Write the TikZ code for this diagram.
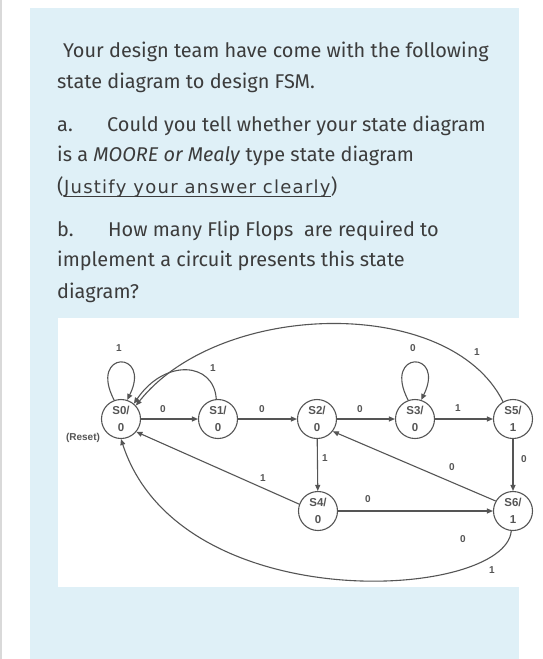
\documentclass[tikz,border=0pt]{standalone}
\usepackage{fontspec}
\setmainfont{Fira Sans}
\newfontfamily\dejavu[LetterSpace=7]{DejaVu Sans}
\newfontfamily\lib{Liberation Sans}
\usetikzlibrary{arrows.meta}
\definecolor{panel}{HTML}{DFF0F7}
\definecolor{txt}{HTML}{3C3C3C}
\definecolor{ln}{HTML}{555555}
\tikzset{
  qtext/.style={anchor=base west, inner sep=0pt, text=txt, font=\fontsize{19.9}{22}\selectfont},
  st/.style={circle, draw=ln, line width=1.1pt, minimum size=39pt, inner sep=0pt, align=center, text=ln, font=\lib\bfseries\fontsize{11.5}{16.5}\selectfont},
  ed/.style={draw=ln, line width=1.1pt, -{Triangle[length=6pt,width=5pt]}},
  lb/.style={text=ln, inner sep=0pt, font=\lib\bfseries\fontsize{10}{11}\selectfont},
}
\begin{document}
\begin{tikzpicture}[x=1pt,y=-1pt]
\useasboundingbox (0,0) rectangle (542,659);
\fill[white] (0,0) rectangle (542,659);
\fill[black!15] (0,0) rectangle (2,659);
\fill[panel] (30,8) rectangle (519,659);
\fill[white] (58,318) rectangle (542,587);
% question text
\node[qtext] (l1) at (63,57) {Your design team have come with the following};
\node[qtext] (l2) at (57,88) {state diagram to design FSM.};
\node[qtext] (l3) at (57,131) {\makebox[50pt][l]{a.}Could you tell whether your state diagram};
\node[qtext] (l4) at (57,161) {is a \textit{MOORE or Mealy} type state diagram};
\node[qtext] (l5a) at (57,193) {(};
\node[qtext, font=\dejavu\fontsize{18}{20}\selectfont] (l5) at (l5a.base east) {Justify your answer clearly};
\node[qtext] (l5b) at (l5.base east) {)};
\draw[txt, line width=0.9pt] ([yshift=-3pt]l5.base west) -- ([yshift=-3pt]l5.base east);
\node[qtext] (l6) at (57,236) {\makebox[51pt][l]{b.}How many Flip Flops\ \ are required to};
\node[qtext] (l7) at (57,266) {implement a circuit presents this state};
\node[qtext] (l8) at (57,298) {diagram?};
% states
\node[st] (s0) at (121,419) {S0/\\0};
\node[st] (s1) at (218,419) {S1/\\0};
\node[st] (s2) at (317,419) {S2/\\0};
\node[st] (s3) at (415,419) {S3/\\0};
\node[st] (s5) at (513,419) {S5/\\1};
\node[st] (s4) at (318,511) {S4/\\0};
\node[st] (s6) at (513,511) {S6/\\1};
% transitions
\draw[ed] (s0) -- (s1);
\draw[ed] (s1) -- (s2);
\draw[ed] (s2) -- (s3);
\draw[ed] (s3) -- (s5);
\draw[ed] (s2) -- (s4);
\draw[ed] (s5) -- (s6);
\draw[ed] (s4) -- (s6);
\draw[ed] (s6.150) -- (s2.-38);
\draw[ed] (s4.160) -- (s0.-40);
\draw[ed] (s0.110) .. controls (88,350) and (152,350) .. (s0.72);
\draw[ed] (s3.110) .. controls (382,350) and (446,350) .. (s3.72);
\draw[ed] (s1.95) .. controls (214,362) and (165,358) .. (s0.50);
\draw[ed] (s5.120) .. controls (450,295) and (220,300) .. (s0.42);
\draw[ed] (s6.-95) .. controls (505,600) and (180,620) .. (s0.-90);
% labels
\node[lb] (t1) at (119,348) {1};
\node[lb] (t2) at (163,409) {0};
\node[lb] (t3) at (213,368) {1};
\node[lb] (t4) at (262,409) {0};
\node[lb] (t5) at (477,352) {1};
\node[lb] (t6) at (360,409) {0};
\node[lb] (t7) at (413,348) {0};
\node[lb] (t8) at (458,408) {1};
\node[lb] (t9) at (325,458) {1};
\node[lb] (t10) at (524,459) {0};
\node[lb] (t11) at (452,467) {0};
\node[lb] (t12) at (368,499) {0};
\node[lb] (t13) at (263,478) {1};
\node[lb] (t14) at (463,539) {0};
\node[lb] (t15) at (492,570) {1};
\node[lb] (reset) at (83,438) {(Reset)};
\end{tikzpicture}
\end{document}
